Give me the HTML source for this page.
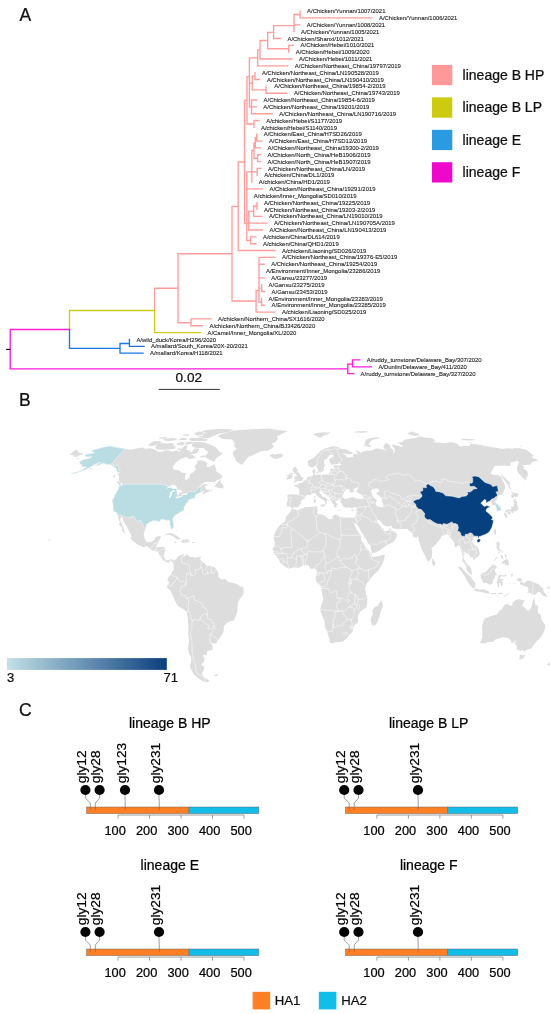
<!DOCTYPE html>
<html lang="en"><head><meta charset="utf-8"><title>Figure</title>
<style>
html,body{margin:0;padding:0;background:#fff;}
body{width:550px;height:1014px;position:relative;overflow:hidden;}
svg text{font-family:"Liberation Sans",Arial,Helvetica,sans-serif;stroke:#000;stroke-width:0.22px;}
#tips text{stroke-width:0.1px;stroke:#222;}
</style></head><body>
<svg width="550" height="1014" viewBox="0 0 550 1014" style="position:absolute;left:0;top:0">
<rect width="550" height="1014" fill="#fff"/>
<g id="panelA">
<text x="19.4" y="20.5" font-size="17.5" fill="#111">A</text>
<path d="M300.1 11.1L300.1 17.9M300.1 17.9L372.0 17.9M294.0 14.5L300.1 14.5M294.0 14.5L294.0 31.6M294.0 24.8L299.8 24.8M273.6 25.6L294.0 25.6M273.6 25.6L273.6 38.5M273.6 38.5L280.5 38.5M267.7 32.3L273.6 32.3M267.7 32.3L267.7 48.7M267.7 48.7L288.7 48.7M288.7 45.3L288.7 52.1M288.7 45.3L293.6 45.3M260.0 40.5L267.7 40.5M260.0 40.5L260.0 59.0M260.0 59.0L292.0 59.0M257.7 49.8L260.0 49.8M257.7 49.8L257.7 65.8M257.7 65.8L287.8 65.8M249.4 57.8L257.7 57.8M249.4 57.8L249.4 107.0M247.0 76.6L249.4 76.6M249.4 83.2L252.2 83.2M252.2 76.1L252.2 89.8M252.2 76.1L255.0 76.1M255.0 72.7L255.0 79.5M255.0 79.5L259.7 79.5M252.2 89.8L266.0 89.8M266.0 86.3L266.0 93.2M266.0 93.2L286.4 93.2M251.5 100.0L251.5 113.7M251.5 100.0L256.6 100.0M249.4 106.9L256.3 106.9M251.5 113.7L272.2 113.7M247.0 76.6L247.0 124.0M247.0 124.0L254.0 124.0M254.0 120.5L254.0 127.4M254.0 120.5L259.2 120.5M244.5 100.3L247.0 100.3M244.5 100.3L244.5 223.5M238.2 162.0L244.5 162.0M238.2 162.0L238.2 250.5M238.2 250.5L275.0 250.5M232.0 206.3L238.2 206.3M232.0 206.3L232.0 301.0M232.0 301.0L256.1 301.0M178.0 253.7L232.0 253.7M256.7 134.2L256.7 141.1M256.7 141.1L261.9 141.1M255.3 137.6L256.7 137.6M255.3 137.6L255.3 147.9M255.3 147.9L260.6 147.9M254.0 142.8L255.3 142.8M254.0 142.8L254.0 158.2M254.0 158.2L257.6 158.2M257.6 154.7L257.6 161.6M257.6 154.7L260.5 154.7M257.6 161.6L260.5 161.6M251.8 150.5L254.0 150.5M251.8 150.5L251.8 182.1M246.8 171.8L257.2 171.8M257.2 168.4L257.2 175.3M257.2 168.4L261.0 168.4M246.8 171.8L246.8 240.5M246.8 188.9L262.5 188.9M244.5 223.4L248.8 223.4M248.8 211.3L248.8 230.0M248.8 223.1L267.0 223.1M248.8 230.0L262.5 230.0M248.8 211.3L253.7 211.3M253.7 206.0L253.7 216.3M253.7 216.3L262.0 216.3M253.7 206.0L257.0 206.0M257.0 202.6L257.0 209.5M246.8 240.5L250.6 240.5M250.6 236.8L250.6 243.7M250.6 236.8L256.0 236.8M250.6 243.7L256.0 243.7M259.0 257.3L259.0 302.0M259.0 257.3L275.0 257.3M259.0 264.2L264.2 264.2M259.0 277.9L264.2 277.9M259.0 288.1L261.6 288.1M261.6 284.7L261.6 291.5M261.6 291.5L264.6 291.5M259.0 302.0L261.6 302.0M261.6 298.4L261.6 305.2M261.6 305.2L264.6 305.2M256.1 290.5L259.0 290.5M256.1 290.5L256.1 312.1M256.1 312.1L275.0 312.1M178.0 253.7L178.0 322.7M178.0 322.7L191.0 322.7M191.0 318.9L191.0 325.7M191.0 318.9L211.0 318.9M191.0 325.7L202.5 325.7M154.6 288.2L178.0 288.2M154.6 288.2L154.6 310.5" stroke="#FF9C9C" stroke-width="1.35" fill="none" stroke-linecap="square"/>
<path d="M154.6 310.5L154.6 332.6M154.6 332.6L200.5 332.6M69.5 310.5L154.6 310.5M69.5 310.5L69.5 329.5" stroke="#CDCB1E" stroke-width="1.35" fill="none" stroke-linecap="square"/>
<path d="M69.5 329.5L69.5 348.3M69.5 348.3L120.0 348.3M120.0 343.5L120.0 353.1M120.0 353.1L143.0 353.1M120.0 343.5L129.4 343.5M129.4 339.4L129.4 346.3M129.4 346.3L144.0 346.3" stroke="#1878E4" stroke-width="1.35" fill="none" stroke-linecap="square"/>
<path d="M10.2 329.5L10.2 368.8M10.2 329.5L69.5 329.5M10.2 368.8L347.8 368.8M347.8 364.1L347.8 373.6M347.8 373.6L353.6 373.6M347.8 364.1L352.5 364.1M352.5 359.9L352.5 366.8M352.5 359.9L359.7 359.9M352.5 366.8L371.4 366.8" stroke="#FF1CDC" stroke-width="1.35" fill="none" stroke-linecap="square"/>
<path d="M6.1 349.4H10.2" stroke="#111" stroke-width="1.2"/>
<g id="tips" font-size="5.93" fill="#1a1a1a">
<text x="307.1" y="13.2">A/Chicken/Yunnan/1007/2021</text>
<text x="379.0" y="20.0">A/Chicken/Yunnan/1006/2021</text>
<text x="306.8" y="26.9">A/Chicken/Yunnan/1008/2021</text>
<text x="301.0" y="33.7">A/Chicken/Yunnan/1005/2021</text>
<text x="287.5" y="40.6">A/Chicken/Shanxi/1012/2021</text>
<text x="300.6" y="47.4">A/Chicken/Hebei/1010/2021</text>
<text x="295.7" y="54.2">A/Chicken/Hebei/1009/2020</text>
<text x="299.0" y="61.1">A/Chicken/Hebei/1011/2021</text>
<text x="294.8" y="67.9">A/Chicken/Northeast_China/19797/2019</text>
<text x="262.0" y="74.8">A/Chicken/Northeast_China/LN190528/2019</text>
<text x="267.0" y="81.6">A/Chicken/Northeast_China/LN190410/2019</text>
<text x="274.3" y="88.4">A/Chicken/Northeast_China/19854-2/2019</text>
<text x="293.9" y="95.3">A/Chicken/Northeast_China/19743/2019</text>
<text x="263.6" y="102.1">A/Chicken/Northeast_China/19854-6/2019</text>
<text x="263.3" y="109.0">A/Chicken/Northeast_China/19201/2019</text>
<text x="279.2" y="115.8">A/Chicken/Northeast_China/LN190716/2019</text>
<text x="266.2" y="122.6">A/chicken/Hebei/S1177/2019</text>
<text x="261.0" y="129.5">A/chicken/Hebei/S1140/2019</text>
<text x="263.7" y="136.3">A/Chicken/East_China/H7SD26/2019</text>
<text x="268.9" y="143.2">A/Chicken/East_China/H7SD12/2019</text>
<text x="267.6" y="150.0">A/Chicken/Northeast_China/19300-2/2019</text>
<text x="267.5" y="156.8">A/Chicken/North_China/HeB1906/2019</text>
<text x="267.5" y="163.7">A/Chicken/North_China/HeB1907/2019</text>
<text x="268.0" y="170.5">A/Chicken/Northeast_China/LN/2019</text>
<text x="264.2" y="177.4">A/chicken/China/DL1/2019</text>
<text x="258.8" y="184.2">A/chicken/China/HD1/2019</text>
<text x="269.5" y="191.0">A/Chicken/Northeast_China/19291/2019</text>
<text x="253.8" y="197.9">A/chicken/Inner_Mongolia/SD010/2019</text>
<text x="264.0" y="204.7">A/Chicken/Northeast_China/19225/2019</text>
<text x="264.0" y="211.6">A/Chicken/Northeast_China/19203-2/2019</text>
<text x="269.0" y="218.4">A/Chicken/Northeast_China/LN19010/2019</text>
<text x="274.0" y="225.2">A/Chicken/Northeast_China/LN190705A/2019</text>
<text x="269.5" y="232.1">A/Chicken/Northeast_China/LN190413/2019</text>
<text x="263.0" y="238.9">A/chicken/China/DL614/2019</text>
<text x="263.0" y="245.8">A/chicken/China/QHD1/2019</text>
<text x="282.0" y="252.6">A/chicken/Liaoning/SD026/2019</text>
<text x="282.0" y="259.4">A/Chicken/Northeast_China/19376-E5/2019</text>
<text x="271.2" y="266.3">A/Chicken/Northeast_China/19254/2019</text>
<text x="266.0" y="273.1">A/Environment/Inner_Mongolia/23286/2019</text>
<text x="271.2" y="280.0">A/Gansu/23277/2019</text>
<text x="268.6" y="286.8">A/Gansu/23275/2019</text>
<text x="271.6" y="293.6">A/Gansu/23453/2019</text>
<text x="268.6" y="300.5">A/Environment/Inner_Mongolia/23283/2019</text>
<text x="271.6" y="307.3">A/Environment/Inner_Mongolia/23285/2019</text>
<text x="282.0" y="314.2">A/chicken/Liaoning/SD025/2019</text>
<text x="218.0" y="321.0">A/chicken/Northern_China/SX1616/2020</text>
<text x="209.5" y="327.8">A/chicken/Northern_China/BJ3426/2020</text>
<text x="207.5" y="334.7">A/Camel/Inner_Mongolia/XL/2020</text>
<text x="136.4" y="341.5">A/wild_duck/Korea/H296/2020</text>
<text x="151.0" y="348.4">A/mallard/South_Korea/20X-20/2021</text>
<text x="150.0" y="355.2">A/mallard/Korea/H118/2021</text>
<text x="366.7" y="362.0">A/ruddy_turnstone/Delaware_Bay/307/2020</text>
<text x="378.4" y="368.9">A/Dunlin/Delaware_Bay/411/2020</text>
<text x="360.6" y="375.7">A/ruddy_turnstone/Delaware_Bay/327/2020</text>
</g>
<path d="M158.7 389.4H219.8" stroke="#333" stroke-width="1"/>
<text x="188.8" y="382.1" font-size="13.6" text-anchor="middle" fill="#111">0.02</text>
<rect x="432" y="64.9" width="20.3" height="20.3" fill="#FF9999"/>
<text x="462.6" y="79.6" font-size="14" fill="#111">lineage B HP</text>
<rect x="432" y="97.4" width="20.3" height="20.3" fill="#CCCB10"/>
<text x="462.6" y="112.1" font-size="14" fill="#111">lineage B LP</text>
<rect x="432" y="129.8" width="20.3" height="20.3" fill="#2A9BE0"/>
<text x="462.6" y="144.5" font-size="14" fill="#111">lineage E</text>
<rect x="432" y="162.2" width="20.3" height="20.3" fill="#EE08CC"/>
<text x="462.6" y="176.9" font-size="14" fill="#111">lineage F</text>
</g>
<g id="panelB">
<text x="18.9" y="405.5" font-size="17.5" fill="#111">B</text>
<defs><clipPath id="mapclip"><rect x="0" y="427" width="550" height="275"/></clipPath></defs><g id="map" clip-path="url(#mapclip)"><path d="M125.5 448.7L130.6 449.8L135.3 448.8L142.7 447.6L145.3 448.8L150.7 448.3L156.5 450.2L157.3 451.7L163.1 451.5L165.3 450.2L168.4 450.4L172.6 451.5L177.8 450.4L179.0 452.3L180.9 450.4L181.9 448.0L185.9 445.0L187.4 446.5L186.4 448.8L187.2 450.4L190.7 449.9L189.2 452.3L191.3 452.0L194.3 449.1L195.4 448.3L199.0 448.5L198.8 450.4L197.4 452.8L194.0 454.0L190.8 454.0L188.9 457.3L187.1 456.9L183.2 458.1L181.6 458.6L176.3 462.0L172.8 466.6L173.6 469.4L178.2 470.0L182.4 472.8L186.1 473.2L184.8 476.9L185.1 479.7L186.9 480.0L189.0 477.8L190.2 474.2L194.1 471.5L195.9 468.9L194.3 466.3L196.9 463.7L197.6 460.6L203.3 460.4L206.1 462.5L207.8 463.2L206.4 466.6L209.6 467.1L213.2 464.9L214.3 463.9L216.0 468.4L216.3 471.5L219.8 473.7L222.3 476.0L221.2 478.7L216.7 480.2L214.6 481.9L208.8 481.9L205.1 482.0L201.5 484.2L198.7 486.5L196.3 488.3L199.4 486.5L203.7 484.2L207.4 484.2L207.3 485.5L204.6 486.1L205.6 487.9L205.9 489.4L207.3 489.8L210.1 490.4L212.7 488.9L212.3 490.2L206.6 492.4L202.8 494.5L202.5 492.6L205.5 490.7L201.6 491.5L201.5 492.1L198.1 493.5L196.1 494.3L194.9 496.0L195.4 497.9L193.2 498.2L189.3 499.4L188.8 499.9L188.0 502.0L186.5 503.0L186.0 504.3L184.1 506.8L184.1 510.0L182.3 511.1L179.6 512.6L177.2 514.2L174.1 516.2L172.8 519.1L173.3 522.9L173.7 526.1L173.0 528.2L171.5 529.4L170.6 527.1L169.7 524.2L170.1 521.6L168.5 520.0L166.1 520.6L163.1 519.5L160.8 519.5L159.8 521.8L157.9 521.6L155.7 520.8L152.6 520.8L151.2 521.4L148.1 523.3L146.4 524.8L145.9 527.8L144.3 531.5L143.7 534.7L145.4 540.6L147.7 542.5L151.9 541.7L154.7 539.5L155.3 537.2L159.2 536.0L161.1 536.4L159.4 540.0L158.4 541.9L157.8 543.8L156.4 546.9L157.7 547.1L161.0 546.9L164.2 547.1L165.4 548.6L164.4 553.4L163.9 556.4L165.6 559.4L168.0 560.4L169.9 559.4L172.2 559.3L173.9 560.6L173.0 563.4L172.2 561.9L170.5 560.2L169.1 561.5L169.5 563.1L167.6 562.5L164.9 561.7L163.6 560.8L161.6 558.1L160.4 556.4L158.3 552.6L157.6 551.8L154.0 551.1L150.6 549.5L148.0 546.7L146.4 546.3L143.9 547.3L140.7 546.1L138.6 545.2L135.5 543.1L132.6 541.0L130.6 538.3L131.3 536.2L130.2 533.0L128.3 529.6L126.8 526.7L125.0 524.0L123.3 521.0L122.7 517.8L121.1 516.8L120.1 520.0L121.8 523.8L123.2 527.7L124.3 531.1L125.2 533.0L124.3 533.6L121.8 530.1L122.1 527.7L119.8 525.4L118.5 524.0L120.2 522.5L118.6 519.5L118.0 516.6L117.8 515.3L116.7 512.6L113.8 511.5L113.1 507.5L113.1 505.2L112.5 502.0L112.3 500.3L114.1 497.3L114.4 495.4L118.2 489.4L119.3 485.4L121.6 485.7L122.7 484.2L122.4 483.7L120.9 482.4L118.8 480.6L119.1 478.2L118.8 476.0L117.9 474.6L119.6 472.8L117.7 472.4L116.6 470.1L115.7 467.7L114.2 467.7L113.4 466.3L111.7 465.4L110.1 464.5L106.9 464.4L105.2 463.7L102.6 463.2L99.0 464.9L95.0 465.9L98.9 462.8L100.5 462.5L96.7 463.7L93.1 465.4L90.5 467.1L85.2 469.8L80.9 471.5L76.2 473.0L71.9 473.9L69.9 474.0L74.7 472.3L78.1 471.5L82.4 469.8L86.5 466.8L84.7 466.8L82.4 466.8L80.8 466.3L82.5 464.5L79.8 464.5L79.7 462.8L80.5 461.1L83.9 459.4L87.7 458.6L90.6 457.8L92.0 456.4L88.8 456.9L85.7 456.9L85.6 455.8L84.4 455.1L87.4 454.1L91.1 453.6L93.8 453.0L93.3 452.0L90.9 450.7L93.7 449.8L97.9 448.8L101.9 447.6L109.2 446.0L112.8 446.6L115.8 447.2L117.4 447.6L121.2 448.0L125.5 448.7ZM173.9 560.6L176.3 559.1L177.6 556.8L179.8 555.6L183.2 553.9L184.4 553.5L183.4 556.2L183.9 556.6L186.4 555.3L186.5 553.9L188.8 555.8L189.6 557.0L192.8 557.0L195.3 557.7L199.4 556.8L199.6 558.5L201.7 561.0L204.9 563.8L206.9 565.7L210.5 565.9L214.6 567.3L216.2 569.0L218.6 573.7L218.3 576.8L221.1 579.4L225.2 579.1L228.0 582.1L232.7 582.7L236.8 584.0L240.1 586.5L242.9 587.0L243.8 590.9L243.2 594.7L240.4 598.1L238.1 601.9L237.5 606.7L237.4 611.4L235.2 618.1L233.5 620.7L229.5 621.3L226.5 623.2L223.6 626.3L223.8 631.0L221.9 634.8L219.3 638.4L217.8 641.3L216.0 643.4L213.3 643.4L210.3 641.9L212.6 645.7L212.7 649.4L207.1 651.3L206.8 654.7L202.7 655.1L204.4 658.1L204.0 661.7L201.4 664.5L204.4 667.3L203.3 671.0L201.9 673.4L203.7 676.3L204.4 677.4L208.4 680.1L209.8 680.8L207.6 681.9L204.1 681.7L200.6 679.7L196.9 677.4L193.4 673.7L190.9 669.1L189.8 665.4L191.2 661.7L191.1 657.0L188.9 653.2L188.0 647.9L188.6 644.7L189.0 640.0L188.3 634.3L188.4 625.7L187.7 617.1L186.8 612.0L184.0 609.5L178.5 606.5L176.4 603.4L174.7 600.0L171.6 592.8L169.6 589.5L167.4 588.2L167.2 585.3L168.8 583.6L169.4 581.5L167.6 581.3L167.7 579.1L169.2 576.2L171.2 574.5L171.7 572.2L173.8 569.7L173.5 566.7L173.8 564.2L173.0 563.4ZM351.7 517.8L352.3 520.2L352.9 522.3L354.3 524.2L355.9 527.7L357.9 531.5L360.4 535.3L361.0 537.2L361.4 541.0L363.6 542.9L365.3 547.6L367.5 549.2L370.3 552.4L371.5 553.0L371.9 555.1L371.4 555.3L373.1 557.2L376.4 556.6L380.4 555.6L384.8 554.5L384.6 557.4L383.1 561.9L380.8 566.7L377.6 571.4L374.3 574.3L371.0 578.1L369.4 580.6L367.2 582.5L366.2 585.7L364.8 589.0L365.9 591.4L365.7 594.3L367.2 597.1L367.3 603.8L366.1 607.6L361.0 611.0L357.9 615.2L358.0 621.9L353.7 625.7L353.3 628.4L352.3 632.0L349.9 634.3L346.4 638.6L343.0 641.5L340.7 641.9L335.2 642.2L332.0 643.4L329.6 642.2L329.6 639.0L328.2 635.2L327.1 631.6L324.9 626.6L324.3 620.0L322.0 615.2L320.2 609.9L321.4 604.8L323.6 599.0L322.3 594.3L321.2 588.6L320.4 585.7L316.6 581.9L315.5 578.5L316.6 575.2L317.1 571.1L315.0 568.2L312.5 568.8L310.9 569.0L308.4 565.3L306.6 565.0L303.0 565.5L300.7 566.7L297.7 568.0L294.4 567.3L288.7 568.8L285.7 567.1L283.2 565.2L280.5 562.9L279.3 561.0L278.5 559.1L276.4 556.2L273.7 553.5L273.7 551.4L272.5 549.2L274.1 546.7L275.0 542.9L274.3 540.0L273.6 537.2L275.3 532.0L277.9 527.7L280.4 524.4L282.8 523.3L285.2 521.0L285.7 519.1L285.6 517.2L289.2 513.2L291.9 509.0L292.8 508.8L296.4 510.0L297.6 510.4L300.1 509.2L305.6 507.1L308.7 507.1L313.0 506.8L316.1 506.2L317.9 506.8L317.3 507.9L317.4 509.0L317.8 511.1L316.7 512.6L318.3 514.0L321.6 514.5L324.8 515.5L327.1 517.8L329.3 519.3L331.7 519.3L332.4 518.1L332.5 516.1L334.9 514.5L337.0 514.9L338.6 516.2L340.2 517.0L343.7 517.4L348.0 517.8L349.7 517.2ZM287.2 506.8L286.6 503.5L287.6 500.7L287.9 498.8L287.1 495.4L288.7 494.5L292.5 494.3L295.3 494.5L298.3 494.7L298.8 494.5L299.2 492.2L299.2 489.4L297.8 487.6L294.4 486.3L294.0 485.4L296.6 484.6L298.7 485.0L298.4 483.0L301.1 483.3L303.2 482.0L303.7 480.6L305.9 479.8L307.0 478.4L307.7 476.9L310.9 476.2L312.6 475.8L313.5 475.1L313.0 473.5L312.6 472.4L312.2 470.7L315.5 468.5L315.4 470.7L315.2 473.0L314.9 473.7L315.3 474.4L316.3 475.1L318.2 474.8L320.1 474.2L321.0 475.3L323.5 474.6L327.3 474.4L328.5 474.4L329.0 473.5L330.6 472.8L330.1 471.4L330.1 469.8L330.8 468.7L332.0 468.5L334.2 469.8L334.3 468.2L334.4 467.3L333.0 466.6L334.4 465.4L336.2 465.2L338.9 465.4L341.8 464.7L339.5 463.3L338.4 463.7L334.7 464.2L332.1 464.9L330.9 463.9L329.5 462.0L329.3 459.3L333.9 456.1L332.5 454.8L332.2 454.8L329.6 455.1L327.6 458.1L324.0 460.4L324.1 463.3L325.5 465.8L323.8 467.1L323.7 470.3L322.6 471.2L320.8 472.6L319.1 472.3L318.6 471.2L317.3 468.5L316.2 466.3L315.4 464.7L315.2 465.9L311.9 467.8L308.7 466.3L308.1 463.9L307.6 461.3L309.2 460.3L312.8 458.3L315.5 456.3L319.3 452.3L321.1 450.4L324.6 448.5L330.2 446.9L332.6 446.1L335.4 446.5L339.4 447.4L339.3 448.3L342.2 449.1L345.4 449.3L348.9 450.7L353.6 453.2L352.3 454.1L349.8 454.3L345.8 453.8L342.4 452.7L345.5 455.3L346.3 456.9L349.4 457.8L350.5 457.3L353.7 456.9L352.6 455.3L354.8 453.8L357.5 454.5L357.3 452.8L355.4 450.2L359.1 451.2L360.3 453.2L361.8 451.9L367.6 450.4L369.1 450.9L370.8 450.4L373.7 449.8L376.2 448.3L380.9 449.1L384.3 449.8L387.3 450.7L384.5 448.8L383.2 446.8L384.1 445.5L385.3 443.3L387.9 443.7L390.0 445.7L390.9 448.0L393.8 450.4L393.1 453.5L395.1 451.2L394.0 448.0L391.7 444.9L394.5 444.6L396.4 445.7L399.4 445.7L402.2 447.2L402.5 445.7L397.5 442.6L403.6 441.8L403.5 440.0L409.6 438.8L414.8 438.1L417.7 437.3L420.5 436.3L424.9 437.6L431.1 438.1L434.3 439.5L435.1 441.1L432.5 442.1L435.9 442.6L437.5 442.4L445.6 443.3L449.4 442.3L453.3 442.6L457.4 443.7L459.2 446.1L461.9 446.5L463.0 445.7L467.3 445.7L469.7 445.7L470.5 444.1L471.2 443.7L478.1 444.4L484.4 445.7L488.5 446.6L500.0 448.5L502.2 448.8L509.7 448.3L514.4 449.6L512.4 448.0L515.9 448.3L519.7 448.3L525.0 449.6L526.5 449.8L533.3 455.3L533.1 456.8L531.6 456.6L531.9 457.4L536.9 459.4L538.6 460.6L534.0 461.6L531.3 462.8L531.0 464.5L525.3 464.9L522.6 464.9L524.0 467.1L523.8 468.4L527.5 471.2L527.5 473.3L528.0 474.2L527.4 476.6L526.3 477.8L525.8 480.6L522.7 477.8L518.6 473.3L516.8 469.8L517.2 467.1L518.4 464.0L519.0 462.0L516.6 460.3L514.4 462.0L510.4 462.0L510.9 465.4L507.6 466.3L505.2 465.4L499.0 465.8L494.9 465.8L493.4 468.0L492.0 470.7L490.4 473.7L494.6 475.1L497.1 474.8L501.1 476.6L502.6 480.6L505.1 485.2L504.9 488.9L503.5 491.7L502.8 494.5L498.7 495.2L497.5 496.7L497.2 499.2L494.9 501.5L495.3 502.6L497.3 503.7L500.1 506.8L501.2 509.0L500.9 510.4L498.9 511.1L497.1 511.3L496.4 508.6L496.1 506.8L495.4 505.8L492.7 505.2L492.0 504.7L491.8 502.0L489.9 501.1L487.6 502.0L486.1 503.3L486.0 500.1L484.2 499.6L482.8 501.3L480.8 503.0L483.4 505.8L484.8 506.6L486.7 505.6L489.3 506.2L489.6 506.9L486.8 508.6L486.0 510.5L486.0 511.1L488.9 513.4L492.0 516.6L492.7 518.3L491.3 519.5L493.5 520.4L492.9 523.8L491.7 527.7L490.1 530.5L488.3 532.8L484.7 534.7L483.6 534.9L480.7 536.2L479.0 536.6L479.0 538.5L478.1 537.6L477.8 536.2L476.7 536.2L475.1 536.2L473.4 537.7L472.3 541.0L472.3 541.6L473.9 543.8L476.2 545.7L477.3 546.7L478.8 549.5L479.7 553.4L479.5 555.3L476.4 557.4L473.0 560.8L473.2 558.5L472.1 557.4L470.6 557.0L469.4 554.9L467.8 553.7L466.1 553.0L465.2 551.4L464.4 551.8L464.5 554.3L463.6 557.2L463.9 559.6L465.2 561.0L466.2 563.4L467.8 564.2L469.1 565.3L471.2 568.6L471.4 571.8L472.6 574.5L471.5 574.7L467.8 571.8L466.6 569.5L466.0 566.7L465.6 565.0L464.2 562.9L462.5 561.9L462.6 559.1L462.7 558.1L462.3 554.3L461.1 550.5L460.0 546.7L458.6 544.8L457.9 545.7L456.5 547.1L454.5 546.7L454.4 543.8L453.6 541.4L452.2 539.5L451.0 538.7L450.0 537.7L448.7 534.7L446.5 534.3L444.3 535.3L442.7 535.6L441.2 536.4L441.0 538.1L439.7 539.5L436.2 543.5L434.8 545.5L432.9 547.1L431.5 548.0L432.2 552.2L431.8 555.3L431.8 557.5L430.6 559.4L428.3 561.7L426.2 559.1L425.9 558.1L425.0 555.6L423.3 552.6L421.2 547.8L418.9 541.0L418.3 537.2L417.7 535.3L417.2 537.2L415.6 537.6L413.9 537.2L412.0 534.7L413.9 533.4L411.0 532.8L410.4 532.0L408.2 529.9L407.2 528.8L402.4 529.0L399.4 529.2L395.2 528.8L392.5 528.2L391.3 525.6L388.3 526.5L385.3 526.1L382.7 524.2L381.4 522.1L379.0 519.9L377.6 520.0L376.8 521.0L378.5 524.4L380.8 526.3L381.1 528.2L382.3 529.9L382.3 527.7L383.3 527.8L383.4 530.3L383.7 531.1L388.3 531.1L390.4 527.5L391.4 530.5L395.0 532.2L397.2 534.3L396.0 538.1L394.4 541.0L390.3 543.5L385.9 545.7L379.4 550.5L374.6 552.8L372.1 553.0L371.7 551.8L370.8 549.0L370.5 545.9L368.4 543.8L366.5 540.0L364.2 537.2L363.8 535.3L360.7 530.9L359.2 527.7L356.5 523.8L356.3 521.0L355.7 523.5L355.3 524.2L354.3 523.3L353.2 521.9L352.3 520.2L351.7 517.8L354.9 517.6L355.5 516.1L355.7 514.7L356.3 512.6L356.4 509.6L356.8 507.5L355.7 507.5L354.3 507.1L351.7 508.6L348.3 506.9L346.5 508.3L344.6 507.1L343.2 506.8L342.0 504.1L340.9 502.2L340.8 501.1L340.8 500.5L340.4 499.8L340.2 499.6L337.9 499.4L337.5 501.1L336.4 500.5L335.7 499.9L335.3 501.1L336.1 502.4L337.8 504.5L337.3 505.0L336.3 505.0L336.7 506.2L336.6 507.7L335.5 507.7L334.4 507.1L333.7 505.4L334.2 504.5L333.3 504.3L332.6 503.2L331.8 502.0L330.4 500.3L330.3 498.6L330.2 497.5L328.8 496.6L328.2 496.2L325.5 494.5L323.7 493.4L322.3 491.1L321.5 492.1L321.3 490.6L319.2 490.9L319.6 491.9L319.8 493.4L321.2 494.3L322.3 496.4L325.4 497.5L326.6 499.0L328.3 499.9L329.1 500.9L329.0 501.5L327.1 500.1L326.3 501.6L327.2 502.8L326.3 504.3L325.1 505.0L325.3 503.5L325.4 502.0L323.4 499.9L322.5 499.6L321.4 498.8L319.4 497.7L316.7 495.6L316.4 494.5L315.6 493.4L314.2 492.8L311.9 494.1L310.0 495.2L308.9 494.9L307.0 494.5L305.5 496.2L306.0 496.7L304.3 498.4L302.8 499.0L302.2 499.8L300.5 502.0L301.3 503.5L300.2 504.3L299.6 505.6L297.6 507.3L294.2 507.3L292.7 508.5L292.3 508.6L291.3 507.7L290.2 506.4L288.8 506.8ZM217.8 435.6L221.6 438.8L223.7 439.1L232.3 439.5L234.7 443.3L234.0 446.5L236.8 448.8L233.4 451.2L232.9 454.5L235.0 457.8L235.9 461.1L239.2 463.5L242.3 464.7L245.2 461.1L248.3 456.9L253.3 454.9L260.6 451.2L268.3 450.4L272.5 448.0L274.1 445.7L271.3 444.1L275.4 441.8L278.2 438.8L276.9 436.6L280.7 434.4L287.9 431.0L279.3 430.3L268.2 428.4L252.8 429.3L241.8 429.7L234.7 430.6L229.4 431.9L225.0 433.3ZM270.0 455.3L272.2 453.8L274.9 454.8L277.9 454.1L280.5 453.6L282.2 454.5L283.4 455.8L281.4 457.3L276.7 458.8L274.1 458.4L271.3 458.1L272.4 456.9L269.9 456.3ZM381.7 600.0L383.0 606.3L381.4 609.5L379.9 615.2L377.1 622.8L375.3 625.1L372.9 625.7L371.2 622.8L370.7 619.0L372.6 614.8L372.4 610.5L374.2 607.6L377.6 606.1L379.4 602.9ZM75.5 449.8L78.1 450.7L78.7 452.8L82.8 453.2L83.0 454.3L78.6 455.6L76.3 457.1L73.8 456.4L73.8 455.3L70.6 455.3L71.4 454.1L68.7 455.3ZM213.9 675.2L216.5 674.3L218.4 674.8L217.0 676.1L214.4 675.9ZM214.8 461.8L212.6 461.3L207.2 458.6L205.3 456.9L201.2 457.4L199.9 456.1L206.1 455.3L208.4 452.0L206.5 450.7L203.6 448.0L200.5 448.0L196.8 448.0L194.2 447.2L191.7 446.5L192.0 444.1L193.7 442.1L199.4 442.1L204.1 442.3L206.9 443.5L210.0 444.4L213.4 446.0L216.3 447.6L217.3 449.3L219.8 452.0L222.0 452.8L222.6 453.5L220.3 455.3L218.5 456.6L215.5 459.1ZM155.3 448.0L157.2 449.5L163.2 449.8L169.1 449.5L174.8 448.5L175.7 446.5L173.2 445.7L174.2 443.7L171.1 443.0L166.8 443.8L163.4 442.9L158.4 443.8L156.1 445.7ZM148.3 444.9L149.8 446.1L154.3 445.7L158.2 444.0L161.9 442.6L160.7 441.4L156.8 441.1L152.8 441.5L150.4 443.3ZM176.9 444.9L182.6 445.4L185.3 442.6L181.0 442.0L177.5 443.3ZM184.8 444.9L191.6 443.8L192.9 442.0L187.1 441.8ZM176.7 449.3L180.3 450.4L182.0 448.8L179.4 448.2ZM188.7 455.3L192.3 454.6L195.8 457.8L192.7 458.6L188.5 459.1L187.0 457.8ZM163.3 439.8L167.3 441.2L175.9 440.3L177.3 438.7L173.8 438.1L167.1 438.4L163.8 438.8ZM178.2 440.3L186.1 440.0L187.3 437.9L181.5 437.9ZM191.9 440.9L206.2 440.9L207.7 439.4L203.3 438.2L197.1 437.9L190.6 438.1L188.3 439.5ZM197.3 437.0L203.4 438.1L209.3 437.9L214.4 435.6L217.8 434.0L227.4 432.3L234.1 429.9L228.4 429.0L217.9 428.9L206.1 429.9L201.4 431.2L205.8 432.3L202.8 433.9L203.0 435.6ZM193.8 433.3L197.4 435.4L201.8 435.0L204.0 432.5L199.1 431.4ZM159.7 438.8L164.2 438.4L167.5 436.9L163.4 436.9L158.7 438.1ZM182.7 435.4L187.7 436.1L190.2 434.7L185.2 434.0ZM214.2 486.8L219.0 488.1L222.8 488.5L223.9 486.8L222.8 484.6L220.8 482.6L220.9 479.7L218.6 481.3L216.1 484.2ZM116.7 480.9L120.2 481.9L121.3 485.0L119.4 485.0L117.0 482.4ZM113.9 474.9L115.5 475.1L114.3 478.2L113.3 476.9ZM207.8 482.6L211.4 483.9L209.0 483.7ZM88.7 468.9L92.5 468.0L91.4 469.2L88.3 470.1ZM75.8 458.8L78.7 459.1L79.4 458.4L77.1 458.1ZM75.5 464.4L77.5 464.5L77.7 463.9ZM164.3 535.5L167.7 533.4L170.9 533.0L174.0 534.3L177.0 535.8L179.1 537.6L181.1 538.7L179.7 539.3L175.7 539.3L175.1 537.7L172.9 536.2L169.4 534.9L166.6 534.9ZM180.4 542.1L183.3 539.3L187.8 539.5L190.2 541.6L189.1 542.3L185.8 542.5L184.6 543.5L182.6 542.5ZM174.1 542.1L177.3 542.5L176.9 543.1L174.1 542.9ZM192.1 541.9L194.5 542.1L194.2 542.9L192.0 542.9ZM176.2 526.5L178.1 526.5L177.5 527.1ZM176.0 529.6L176.4 530.9L176.9 529.9ZM199.6 556.8L201.1 556.6L201.0 557.9L199.7 557.9ZM292.8 482.2L295.0 480.2L296.7 480.0L296.4 479.8L293.6 479.3L295.2 477.8L294.5 477.3L294.8 476.2L296.8 476.2L296.8 475.1L295.9 474.2L296.2 473.5L294.0 473.7L294.3 472.3L293.3 472.6L293.1 470.7L292.5 468.9L294.2 467.0L296.8 467.0L295.5 468.7L298.5 468.9L298.1 469.6L297.5 471.0L296.6 471.5L298.8 472.4L299.0 473.5L300.9 475.1L301.1 476.0L301.4 477.1L303.4 477.5L303.3 478.7L302.3 479.8L303.0 480.2L301.4 481.0L299.4 480.9L297.5 481.3L296.0 481.7L293.8 482.4ZM292.0 478.4L292.4 476.4L292.7 473.9L292.3 473.0L290.8 472.8L289.1 473.7L288.9 474.6L286.9 474.8L287.0 476.0L288.3 476.6L287.5 477.3L286.3 478.6L287.0 479.7L289.2 479.1L291.0 478.6ZM320.0 504.9L321.5 504.5L324.9 504.3L324.4 506.4L324.3 507.3L320.2 505.6ZM313.4 499.4L314.9 498.8L315.9 500.1L315.6 502.6L314.6 503.2L313.8 502.6L313.7 500.1ZM313.9 496.6L315.1 495.4L315.3 497.3L314.9 498.4L314.1 497.5ZM337.4 509.6L338.9 509.8L341.7 510.2L341.3 510.5L339.3 510.7L337.6 510.2ZM351.1 510.5L352.1 509.8L354.5 509.2L353.7 510.5L352.2 511.3L351.3 511.1ZM316.3 472.1L318.3 471.4L318.4 472.8L317.5 473.9L316.4 473.0ZM325.9 469.6L327.0 468.2L326.9 469.2L326.3 470.0ZM364.0 445.7L364.9 443.3L365.9 440.3L368.6 438.5L373.9 437.6L380.2 437.5L378.1 438.8L372.8 439.8L370.2 441.8L368.8 444.1L371.8 446.9L367.5 446.8L365.2 445.7ZM313.4 434.4L316.6 433.0L323.1 432.3L331.0 432.7L327.0 434.4L324.8 435.1L322.2 436.6L320.1 437.8L317.1 436.6L314.1 435.1ZM353.2 432.6L362.1 432.7L369.4 432.0L364.3 431.0L356.0 431.6ZM407.5 433.7L410.9 431.6L418.7 433.7L419.3 435.4L414.1 435.9ZM461.0 438.8L466.9 438.8L476.0 439.5L473.4 440.3L467.6 440.5L462.2 439.8ZM468.2 442.0L472.5 442.6L470.6 443.0ZM519.3 445.7L521.1 445.7L522.1 446.5L520.8 446.6ZM510.0 489.8L511.1 488.7L508.8 483.7L511.1 484.2L504.2 477.3L501.9 474.6L500.9 474.6L502.6 477.8L506.0 482.4L508.5 486.1L509.9 488.9ZM512.3 498.2L513.6 497.9L514.1 496.2L516.8 497.3L518.7 494.9L517.4 493.0L513.9 493.0L510.8 490.9L512.8 494.7L511.1 494.9L511.2 496.7ZM504.7 512.4L505.7 510.7L507.1 509.4L511.1 509.4L511.2 506.2L512.4 507.1L513.8 506.0L514.0 504.9L513.9 501.5L513.2 499.9L514.2 498.4L515.5 500.1L517.3 502.0L516.8 504.3L517.9 506.9L518.7 509.2L517.8 510.5L517.3 509.4L516.7 510.2L516.5 511.3L515.6 511.3L513.7 511.3L513.3 510.5L513.7 511.9L512.7 513.4L511.0 511.9L511.1 511.3L509.1 511.3L507.0 511.9L504.9 512.4ZM504.9 512.6L506.5 514.0L507.2 514.9L507.3 517.4L506.5 518.1L505.5 517.6L504.8 515.7L503.5 514.3L504.2 513.2ZM507.2 512.4L509.4 511.7L510.8 512.8L510.4 513.8L508.8 514.7L507.5 513.6ZM517.8 493.2L518.7 492.2L520.3 491.1L519.9 491.7ZM524.2 487.9L524.4 486.1L524.7 487.6ZM525.4 482.4L525.5 481.1L525.6 482.0ZM495.1 529.0L496.1 529.6L496.0 532.4L495.5 535.3L494.2 533.7L493.7 531.8L494.5 529.6ZM432.0 558.7L432.7 559.1L434.3 561.0L435.6 563.3L435.0 565.0L433.6 565.9L432.6 565.3L432.1 562.9L432.2 561.0ZM496.5 541.9L499.1 541.9L499.8 544.8L498.9 546.7L499.5 549.5L502.2 550.9L503.9 553.2L502.5 552.4L501.1 551.3L498.6 551.1L497.7 549.5L496.4 547.1L496.6 545.5L496.5 543.8ZM501.5 563.8L502.2 561.9L503.7 560.8L506.8 558.5L508.5 561.0L508.9 564.2L507.7 566.1L507.0 564.8L505.2 565.2L504.8 563.3ZM504.3 553.5L506.8 555.3L506.2 557.7L505.0 556.6ZM500.7 554.7L502.7 555.4L503.3 559.4L501.9 558.5L500.9 557.2ZM493.4 561.2L496.8 556.6L497.4 557.4L494.1 561.5ZM497.8 551.6L499.5 551.8L499.4 553.7L498.5 553.2ZM480.7 574.3L481.5 573.3L484.3 572.4L487.1 571.1L488.6 568.4L491.0 566.7L493.0 564.0L494.5 565.2L497.1 567.1L495.2 569.0L495.0 571.4L497.0 575.2L495.0 575.6L494.6 578.7L492.9 580.0L492.3 583.8L489.6 584.8L487.1 583.2L484.6 582.9L482.5 582.5L482.5 580.0L480.9 578.1L480.6 575.6ZM457.8 566.5L461.4 567.3L463.5 569.9L466.4 573.0L469.0 575.2L471.5 578.1L473.1 580.6L475.5 582.9L475.0 588.2L473.0 588.0L470.5 585.7L468.1 582.5L466.2 578.9L464.1 575.2L461.0 571.1L458.1 567.6ZM473.9 590.1L475.5 588.4L479.4 589.7L483.3 589.3L486.2 590.3L489.1 591.8L488.8 593.7L484.9 593.0L480.1 591.8L476.0 591.2ZM498.3 575.6L500.1 574.7L503.9 575.4L507.1 574.1L505.8 576.4L501.1 576.2L499.7 578.9L504.1 578.9L501.6 581.0L503.3 584.8L501.4 586.3L500.2 582.9L499.3 582.9L499.1 587.6L497.6 587.6L497.7 583.8L496.6 582.5L498.3 577.5ZM489.2 592.8L492.6 593.0L496.4 593.1L496.2 593.9L491.4 594.1ZM497.9 593.1L502.8 592.8L502.6 593.9L498.0 593.9ZM503.4 596.8L505.1 594.9L509.9 593.1L508.6 594.3L505.1 596.6ZM496.2 595.2L499.1 595.8L497.7 596.6ZM511.0 573.7L513.0 574.3L511.9 577.7L511.4 576.2ZM511.8 582.9L516.4 583.4L514.2 583.8ZM508.5 583.2L510.4 583.4L509.4 584.4ZM516.8 578.7L519.3 577.9L521.7 578.7L522.0 581.9L524.1 583.4L527.5 580.2L533.2 582.1L538.9 584.4L540.9 587.0L543.6 588.6L543.0 590.1L545.5 594.3L548.2 596.8L546.1 596.8L542.1 595.2L540.8 592.6L538.4 591.8L536.6 593.1L535.6 594.7L532.4 594.5L529.3 592.4L527.3 593.1L528.6 590.5L528.0 587.6L524.0 585.7L520.8 584.8L519.7 583.4L521.4 581.5L518.7 581.5L516.8 579.8ZM545.3 587.8L547.8 587.4L551.5 585.1L551.1 586.7L548.5 589.0ZM534.5 597.5L535.1 604.4L538.0 605.7L537.7 612.4L541.0 615.2L541.5 619.6L543.0 621.9L545.5 625.1L544.4 631.0L541.5 636.2L536.6 641.5L533.0 645.7L531.2 648.5L527.5 649.4L524.2 651.5L522.3 649.8L520.2 651.0L516.6 649.4L516.8 645.7L515.3 644.9L515.9 643.4L514.0 644.1L516.5 639.2L511.9 643.4L510.6 640.0L507.8 638.1L503.4 637.3L498.2 638.6L494.6 640.0L493.3 641.7L487.7 641.9L484.0 643.8L479.9 642.4L482.3 638.1L482.4 632.0L482.0 626.6L482.7 622.8L484.6 618.7L489.6 616.4L493.4 615.2L496.7 614.5L499.3 611.4L499.8 609.5L501.8 610.1L501.9 608.2L504.9 604.8L508.0 603.8L509.6 605.7L512.3 605.5L512.5 602.9L514.9 600.8L518.1 599.0L522.7 600.0L524.8 600.4L523.1 602.9L521.9 605.7L524.8 607.6L527.0 610.5L529.6 610.5L531.8 605.7L532.7 600.9ZM520.2 654.5L522.5 655.3L525.5 654.9L524.1 657.4L521.8 659.3L519.5 660.0L519.3 657.9ZM546.8 664.5L548.6 665.6L553.3 664.3L559.0 660.4L563.8 656.4L562.9 654.2L558.2 657.9L551.3 661.1ZM388.2 553.2L390.1 553.2L389.3 553.7Z" fill="#DDDDDD" />
<path d="M150.6 549.5L151.3 546.7L152.9 546.5L154.1 543.3L156.2 543.3L155.8 546.7L156.3 546.9M156.2 543.3L157.9 541.9M153.9 551.1L155.3 549.7L157.4 547.3M155.3 549.7L157.8 550.9L157.5 552.0M158.3 552.4L160.6 550.5L162.4 549.4L165.4 548.6M160.6 556.0L163.9 556.4M164.9 561.7L165.5 559.1M173.9 560.6L173.0 563.4M185.0 539.6L184.5 542.9M184.3 554.3L182.2 556.2L181.2 559.6L182.0 563.1L185.9 563.8L190.0 565.3L189.4 569.5L190.7 573.3L190.8 574.9M202.5 561.0L200.2 565.7L201.1 567.3M190.8 574.9L193.1 575.6L195.6 574.3L195.2 569.5L197.6 569.5L200.6 568.6L201.1 567.3M201.1 567.3L202.3 567.6L202.5 570.5L202.4 572.8L204.1 574.9L207.1 573.3L207.9 573.5M206.9 565.7L206.7 567.3L205.5 569.5L206.7 570.9L207.9 573.5M207.9 573.5L210.4 572.4L211.7 573.0M212.2 566.1L211.5 567.6L211.7 573.0M211.7 573.0L213.9 573.0L215.9 569.5M190.8 574.9L190.2 573.3L186.0 573.9L186.7 575.2L185.7 577.1L186.7 579.4L185.9 585.1M171.2 574.5L173.3 576.2L175.8 576.6L177.0 577.3M177.0 577.3L178.3 578.7L179.9 581.3L181.6 581.7L184.1 581.3L185.4 582.1L185.9 585.1M168.8 583.6L169.0 585.3L170.2 586.7L171.8 585.7L172.6 583.2L175.0 581.9L177.0 577.3M185.9 585.1L181.2 586.7L179.7 591.0L181.2 594.3L182.4 595.8L185.4 595.2L185.4 598.1L187.2 598.1M187.2 598.1L188.7 600.9L188.4 604.8L187.9 607.6L188.8 608.6L188.1 610.5M186.8 612.0L188.1 610.5M187.2 598.1L189.6 597.7L193.9 595.8L194.1 599.6L198.0 601.3L202.2 603.4L203.4 608.0L206.0 608.2L206.3 610.1L207.7 611.4L207.2 614.8M188.1 610.5L190.1 613.3L190.4 616.2L191.9 620.6L193.0 620.6M193.0 620.6L194.4 618.7L197.7 620.6L200.1 619.4M200.1 619.4L200.9 616.2L204.2 613.9L207.2 614.8M207.2 614.8L208.0 619.2L211.4 619.6L212.2 622.8L214.0 623.0L213.8 625.9M200.1 619.4L204.8 622.8L209.0 625.5L207.8 628.9L212.0 629.1L213.8 625.9M213.8 625.9L215.5 628.7L212.6 631.2L210.2 634.6M210.2 634.6L210.0 639.0L210.1 641.9M210.2 634.6L212.9 635.8L216.4 637.9L217.8 641.3M193.0 620.6L191.7 623.8L192.0 628.5L190.6 632.4L190.8 637.1L191.8 640.5L192.1 645.7L192.2 651.0L192.4 655.1L193.9 660.8L195.5 664.5L195.7 670.1L197.3 673.7L201.2 675.6L203.7 676.3M203.6 676.8L205.0 680.8M297.6 510.4L298.3 513.4L299.1 515.7L295.5 517.8L292.3 520.4L287.2 522.5L287.2 525.2M287.2 524.4L280.0 524.4M287.2 525.2L287.1 527.7L281.9 527.7L281.7 532.6L280.1 533.4L280.0 536.6L273.6 536.6M287.2 525.2L293.3 529.6L302.9 537.2L302.9 537.7L306.2 539.5L306.3 541.0L310.4 540.0L313.1 537.6L320.3 532.4L317.0 530.5L316.8 526.7L316.0 519.7L315.3 516.1L312.7 512.8L313.7 511.1L314.2 506.9M315.3 516.1L317.2 516.8L318.9 514.0M320.3 532.4L323.8 534.1L325.1 533.4L339.8 540.0L339.8 539.1L341.4 539.1L340.2 517.0M341.2 535.3L360.4 535.3M293.3 529.6L290.6 529.6L292.0 547.6L285.9 547.6L283.6 547.8L282.3 547.5L281.1 549.0M274.1 546.7L277.4 545.5L279.3 547.6L281.1 549.0L282.4 553.5M273.7 553.5L278.6 553.2L282.4 553.5M273.6 551.3L278.1 551.3M276.4 556.2L278.6 554.9L278.6 553.2M282.4 553.5L286.3 553.5L287.9 557.7M279.2 560.0L283.0 558.1L284.1 561.0M284.1 561.0L285.6 563.1L287.0 562.7M287.9 557.7L287.5 561.0L287.0 562.7M282.1 564.0L284.1 561.0M287.0 562.7L288.7 566.1L288.7 568.8M287.9 557.7L291.2 557.7L292.0 557.4M292.0 557.4L292.0 555.3L294.0 553.0L294.6 551.6L296.3 550.5L297.7 550.1L299.9 548.6L301.3 548.6M301.3 548.6L303.1 548.0L306.7 547.8L307.8 545.0L307.8 540.8L306.3 541.0M292.0 557.4L293.5 558.7L296.6 559.1M296.6 559.1L296.2 556.2L300.8 556.0M300.8 556.0L302.5 556.2L304.9 554.5L304.9 553.7M301.3 548.6L301.7 550.5L302.6 551.6L304.6 553.4L304.9 553.7M296.6 559.1L296.9 561.9L295.7 564.2L296.4 567.4M300.8 556.0L301.8 559.1L302.0 562.9L303.0 565.5M302.5 556.2L303.6 560.0L303.6 565.3M305.4 565.0L305.6 560.0L306.9 557.7L306.9 554.9M304.9 553.7L306.9 554.9M306.9 554.9L307.5 551.4L311.6 551.3L314.1 552.0L317.3 551.8L321.4 552.0L323.2 551.1M323.2 551.1L323.0 549.5L326.2 545.2L326.1 539.1L325.1 533.4M315.0 568.2L316.3 564.8L319.1 564.4L320.7 561.9L322.6 558.1L324.2 555.3L324.2 553.4L323.2 551.1M324.2 553.4L325.6 556.2L325.9 558.1L324.0 558.1L326.1 562.9M326.1 562.9L324.8 565.7L325.0 568.6L327.3 571.8L327.7 573.0M327.7 573.0L322.9 573.0L319.6 573.0L317.1 572.8M319.6 573.0L319.6 575.2L316.6 575.2M339.8 540.0L340.1 547.3L338.3 547.6L337.7 550.5L337.4 552.4L336.6 553.0L337.9 556.2L338.5 556.4M326.1 562.9L328.9 562.5L331.5 561.0L332.2 560.0L334.5 559.8L336.6 557.0L338.5 556.4M338.5 556.4L339.9 559.1L339.6 560.6L342.1 562.9L346.1 567.3M346.1 567.3L343.0 567.3L338.5 568.2L337.9 569.3L334.7 568.6L332.3 567.8L331.6 570.5M331.6 570.5L328.2 570.5L327.7 573.0M339.6 560.6L341.2 560.6L343.6 557.7L346.9 559.3L349.4 558.5L350.2 557.7L351.8 558.5L354.0 554.9L355.3 553.9L355.4 556.8L356.8 559.1M356.8 559.1L357.0 556.6L358.3 554.7L360.0 553.0L360.6 549.9M360.6 549.9L361.1 544.8L363.5 542.9M360.6 549.9L362.8 548.8L364.8 549.4L367.8 550.3L370.3 553.4M370.3 553.4L369.5 556.2L371.3 556.2L371.7 555.3M371.3 556.2L371.5 559.1L373.2 560.0L378.2 561.9L379.8 561.9L375.0 567.6L371.8 568.4L370.1 569.2L368.5 569.6M368.5 569.6L366.0 570.7L363.6 570.3L360.3 568.8L360.1 568.4M356.8 559.1L357.0 561.0L355.2 561.9L356.9 564.4L359.1 566.9L360.1 568.4M368.5 569.6L368.5 577.1L369.5 580.4M360.1 568.4L357.0 569.2L357.8 571.4L358.6 574.3L357.0 576.6L356.8 579.1M356.8 579.1L362.9 582.9L363.1 583.8L365.5 586.1M351.7 570.5L353.7 570.3L357.0 569.2M346.1 567.3L349.6 568.6L351.7 570.5M351.7 570.5L352.4 573.0L350.3 576.0L349.8 579.8M349.8 579.8L351.2 579.1L356.8 579.1M349.8 579.8L348.8 582.3L349.1 583.4L349.5 588.6L351.4 592.8M348.8 582.3L351.2 581.7L351.7 579.2M349.1 583.4L351.7 583.4L351.2 581.7M349.4 585.5L351.7 583.4M351.4 592.8L355.0 595.0M355.0 595.0L356.8 595.2L358.1 599.0M358.1 599.0L362.4 599.4L367.2 597.1M319.3 584.6L320.8 581.7L324.7 581.0L324.7 578.1L323.9 574.7L322.9 573.0M331.6 570.5L330.3 576.2L327.7 581.0L327.2 584.8L324.7 586.5L322.6 585.9L321.1 588.2M321.1 588.4L323.0 588.4L328.3 588.4L329.9 592.4L332.9 592.4L333.9 590.5L336.8 591.0L336.9 595.4L337.4 598.5L340.3 598.1M340.3 598.1L340.2 601.9L337.0 601.9L336.8 608.0L339.0 610.7M320.2 609.9L322.9 609.5L324.1 610.3L330.9 610.3L335.7 611.4L339.0 610.7L341.9 611.0M340.3 598.1L342.4 598.5L346.0 600.4L348.4 602.7L349.8 600.2L347.5 599.6L348.1 595.8L348.4 593.3L351.4 592.8M355.0 595.0L355.3 600.0L354.4 603.0L355.2 603.8M355.2 603.8L350.2 605.7L350.5 606.8M350.5 606.8L348.0 607.6L344.8 611.2L342.1 611.0M358.1 599.0L357.5 602.9L359.5 605.5L359.3 607.6L358.4 609.7L356.8 607.6L357.1 604.6L355.2 603.8M350.5 606.8L354.5 608.9L354.0 613.3L354.2 615.2L351.3 619.8M342.1 611.0L343.1 614.3L345.7 616.2L346.1 618.3L348.3 619.4M348.3 619.4L351.3 619.8M339.0 611.4L335.1 612.0L334.8 619.0L333.2 619.0L333.0 624.4M333.0 624.4L332.7 631.2L328.5 631.8L327.1 631.6M333.0 624.4L334.1 628.2L337.0 626.6L337.7 625.3L341.7 626.1L344.1 622.3L348.3 619.4M351.3 619.8L352.2 623.8L351.9 626.3L352.1 628.2L353.3 628.4M343.6 633.5L346.3 631.6L347.4 633.3L345.4 635.4L343.6 633.5M350.4 626.6L352.0 626.6L351.9 628.9L350.3 628.9L350.4 626.6M287.7 497.5L288.7 497.3L291.1 497.5L291.6 498.1L290.6 499.2L290.3 501.6L289.6 501.8L290.3 504.5L289.6 506.4M298.3 494.7L302.1 495.8L305.8 496.6M304.6 480.4L307.1 482.4L309.4 483.3L310.3 483.3L312.9 484.2L312.1 486.8L309.8 489.4L311.3 490.0L310.9 491.5L312.2 493.9M305.9 479.8L309.6 480.6L309.6 480.9L309.8 482.2L309.4 483.3M309.6 480.9L310.7 478.7L311.2 476.6M313.0 473.5L314.9 473.7M321.0 475.3L321.8 478.7L322.5 480.6L318.6 481.9L321.1 484.6L320.0 487.0L316.4 487.0L315.1 487.0L312.1 486.8M311.3 490.0L314.3 489.8L316.3 488.9L318.9 487.9L321.2 488.9L321.3 490.6M315.1 487.0L316.3 488.1M321.1 484.6L322.8 484.2L325.6 485.0L326.0 486.1L324.7 488.1L321.2 488.9M322.5 480.6L324.8 482.0L328.2 483.3L330.0 483.9L333.6 484.1L335.5 481.5L334.8 479.7L334.5 477.7L334.1 475.1L333.0 474.4L328.5 474.4M333.0 474.4L332.6 473.3L330.6 472.8M330.1 471.4L334.3 471.0L338.0 472.1M334.1 475.1L337.0 474.8L338.0 472.1L340.1 471.2L339.3 469.2L338.7 468.9L338.3 466.6L338.9 465.4M334.3 468.2L336.7 468.4L338.7 468.9M340.1 471.2L344.0 472.3L344.1 473.7L347.2 476.0L345.3 476.7L346.3 478.6M334.8 479.7L339.6 479.7L344.8 480.0L346.3 478.6M346.3 478.6L349.4 478.2L352.3 481.7L355.9 482.6L359.0 483.1L359.0 486.3L357.1 487.8M333.6 484.1L333.3 485.4L334.4 486.1L337.4 486.6L339.8 485.5L342.5 488.9L342.7 490.7L345.0 491.3M339.8 485.5L343.3 486.1L345.2 488.9L342.7 490.7M326.0 486.1L328.5 486.5L330.2 485.7L333.3 485.4M325.6 485.0L328.2 483.3M334.4 486.1L332.0 489.4L330.9 489.6L328.8 490.0L325.4 488.9L324.7 488.1M330.9 489.6L332.8 492.1L334.4 492.2L334.8 493.2L338.3 494.1L341.2 493.4L343.7 494.1M334.8 493.2L334.6 495.8L334.7 496.7L335.7 498.6L338.8 498.6L340.8 497.9L343.2 497.3M340.8 497.9L340.4 499.8M335.7 498.6L332.8 499.4L331.4 501.6M330.2 497.5L331.8 496.9L332.1 499.0L332.8 499.4M331.8 496.9L334.7 496.7M321.3 490.6L323.6 490.7L325.4 488.9M324.4 491.3L329.2 491.7L329.9 493.2L329.7 494.5L328.8 496.2M329.2 491.7L329.2 490.0M329.9 493.2L331.7 495.0L331.8 496.9M324.4 491.3L325.1 493.2L327.4 495.4L328.8 496.2M316.6 466.3L317.7 462.8L317.1 459.4L319.2 456.9L320.9 454.0L323.6 450.4L326.7 449.6L333.1 449.3L334.5 448.0L337.2 449.6L339.3 448.3M332.2 454.8L331.1 452.0L326.7 449.6M337.2 449.6L338.0 453.0L340.3 458.1L342.7 459.6L338.4 463.7M290.8 473.3L289.8 474.4L292.1 474.9M356.6 508.6L358.0 507.3L362.6 507.1L366.0 506.4L369.9 506.6L368.0 502.2L367.2 500.9L366.8 499.0L363.6 498.2M360.8 494.7L366.3 495.8L371.1 497.7L374.3 497.7M366.8 499.0L369.0 498.6L371.1 497.7M369.0 498.6L371.8 502.0L372.0 503.2M369.2 501.6L372.0 503.2L374.1 501.8L375.8 504.1M366.0 506.4L364.9 510.9L361.5 513.6L358.6 515.7L357.0 514.9M361.5 513.6L362.4 515.9L359.1 517.2L360.8 519.1L360.1 520.0L357.9 521.6L356.3 521.2M354.9 517.6L356.1 521.0M356.7 514.9L356.7 517.2L356.3 521.0M355.8 514.2L357.0 513.8L357.7 511.5L356.9 511.3M362.4 515.9L367.0 517.8L371.7 521.6L374.5 521.8L376.2 519.9L376.7 520.0M374.5 521.8L376.2 522.7L377.7 522.9M369.9 506.6L372.1 509.0L371.7 511.5L373.1 514.0L375.9 516.2L376.0 518.1L377.7 520.2M370.6 545.9L371.3 543.8L374.1 544.2L377.4 544.8L379.2 542.5L385.2 541.0L389.9 539.1L390.7 535.3L389.7 533.9L385.5 533.6L383.7 531.1M389.7 533.9L390.6 529.9L391.2 529.7M385.2 541.0L387.3 545.4M383.8 506.2L386.8 504.9L390.0 505.4L393.5 507.7L395.3 507.5L395.4 509.4L395.5 513.4L396.6 517.2L398.2 518.5L397.1 520.4L398.7 522.5L400.6 523.5L400.8 525.4L401.6 526.1L399.4 529.2M397.1 520.4L399.7 521.2L405.6 520.4L405.8 517.8L409.6 516.4L409.5 514.2L410.6 513.6L411.6 512.3L411.8 509.6L411.0 508.6L414.1 506.9L416.2 506.4M395.7 509.4L397.5 510.0L400.5 508.1L401.9 505.8L403.2 506.0L405.2 506.4L407.6 506.6L408.8 505.6L408.6 504.1L410.1 504.3L411.2 506.8L412.7 506.8L413.6 505.8L416.2 506.4M410.4 532.0L414.7 530.7L414.2 528.2L412.5 526.7L411.5 525.8L413.0 523.8L415.2 523.8L416.3 521.9L416.7 520.0L418.3 518.1L417.4 514.7L416.5 514.0L415.7 511.9L418.8 510.5L421.4 509.6M427.2 519.7L427.9 522.3L431.1 524.0L434.4 524.8L437.6 526.5L441.3 526.7L440.8 524.0M442.2 525.4L443.9 526.3L447.4 525.9L447.2 524.2M441.3 526.7L442.5 527.1L442.0 530.5L443.6 533.0L444.3 535.3M444.2 527.7L448.7 529.6L449.0 531.1L447.1 531.3L447.7 533.4L449.0 532.0L450.3 536.6L450.0 537.7M450.1 535.5L450.4 531.5L452.2 529.2L452.6 526.5L455.2 525.6L455.2 523.5M462.7 558.1L464.0 554.7L462.9 551.4L461.0 548.2L461.4 545.9L458.9 541.9L459.5 539.6L462.7 538.3L464.1 536.2M462.7 538.3L463.8 540.0L465.3 543.8L466.6 542.5L469.6 542.3L471.2 544.0L471.5 546.3L473.0 547.5L473.1 549.7L469.1 549.9L468.2 551.3L469.4 554.9M465.2 534.5L467.2 537.6L469.8 538.3L469.3 540.0L471.5 541.7L474.2 544.8L476.2 548.6L476.3 549.2L476.8 553.4L474.2 555.1L474.6 556.2L472.1 557.4M473.1 549.7L476.3 549.2M465.6 565.0L467.3 566.3L468.9 565.3M373.3 489.4L369.6 486.1L368.7 485.4L369.3 481.9L371.3 482.6L373.6 479.3L377.7 480.2L380.1 481.3L385.2 480.6L389.0 479.8L386.3 477.8L386.9 475.3L392.3 474.4L396.4 473.3L400.3 473.3L401.2 474.9L404.5 475.1L408.8 474.4L411.2 476.4L415.9 480.9L420.7 480.6L424.3 483.1L427.7 484.1M421.7 496.9L419.5 495.8L414.6 495.4L411.8 495.0L411.5 496.6L407.8 495.8L407.6 496.7L405.2 498.6L403.9 499.2L401.6 499.0L399.9 495.4L392.0 493.0L387.7 490.6L384.1 491.7L385.6 498.6L383.7 497.5L380.1 497.7M385.6 498.6L387.1 498.6L388.9 495.8L391.3 496.9L391.8 498.4L394.6 499.0L396.0 501.1L399.3 503.2L403.2 506.0M407.6 496.7L409.0 498.6L411.5 499.6L409.9 500.7L408.1 501.1L406.2 500.7L408.5 501.8L413.2 502.0M406.2 500.7L405.2 500.7L403.8 502.6L405.7 504.5L405.2 506.4M428.3 483.9L433.2 480.9L441.6 482.8L441.9 478.6L447.4 480.0L448.1 481.3L454.7 481.9L461.8 483.5L465.3 481.9L469.6 482.8M489.9 501.1L491.6 499.2L494.2 498.2L495.9 496.6L497.3 496.6M481.5 573.3L484.7 575.2L488.3 574.7L490.4 571.8L491.1 569.0L494.4 569.2M533.2 582.1L532.4 594.5M504.6 595.0L506.3 594.3L506.2 593.5" fill="none" stroke="#fff" stroke-width="0.55" stroke-linejoin="round" stroke-linecap="round" opacity="0.9"/>
<path d="M344.8 498.8L343.2 497.5L342.3 496.4L342.8 495.0L343.8 493.2L345.0 491.3L346.2 488.9L348.1 488.9L350.5 489.8L349.1 490.9L350.8 492.4L351.9 492.8L353.5 491.7L355.1 491.1L352.6 489.4L355.1 488.3L356.0 487.8L358.1 487.6L358.8 487.8L357.3 489.4L356.9 490.7L355.6 491.3L357.2 492.2L359.1 493.4L360.3 494.3L362.4 495.4L363.8 498.1L361.1 499.2L355.8 498.6L353.9 497.3L351.4 497.3L349.0 498.2L346.3 498.8ZM371.9 489.8L373.9 488.9L376.0 488.3L378.3 488.9L379.5 491.1L377.6 492.6L375.9 493.0L377.4 495.0L379.8 495.8L380.5 498.2L382.5 498.2L381.5 501.1L382.6 503.0L383.8 506.2L382.6 506.9L379.5 507.1L377.0 506.0L375.8 504.1L376.0 502.4L376.9 500.5L375.9 499.2L374.3 497.7L372.2 495.4L371.7 492.6L370.4 491.3Z" fill="#FFFFFF" />
<path d="M122.7 484.2L162.8 484.2L163.4 484.6L166.9 485.5L170.3 486.1L172.1 485.5L176.4 488.1L176.7 488.9L177.6 490.2L178.8 491.1L177.5 495.4L176.0 496.9L176.3 497.9L182.5 495.8L182.7 494.5L186.8 493.9L187.3 493.2L189.7 491.7L194.9 491.7L196.2 490.9L197.9 488.9L199.6 487.2L200.9 487.4L201.5 487.8L200.8 490.2L201.1 491.1L201.5 492.1L198.1 493.5L196.1 494.3L194.9 496.0L195.4 497.9L193.2 498.2L189.3 499.4L188.8 499.9L188.0 502.0L186.5 503.0L186.0 504.3L184.1 506.8L184.1 510.0L182.3 511.1L179.6 512.6L177.2 514.2L174.1 516.2L172.8 519.1L173.3 522.9L173.7 526.1L173.0 528.2L171.5 529.4L170.6 527.1L169.7 524.2L170.1 521.6L168.5 520.0L166.1 520.6L163.1 519.5L160.8 519.5L159.8 521.8L157.9 521.6L155.7 520.8L152.6 520.8L151.2 521.4L148.1 523.3L146.4 524.8L145.9 527.8L143.1 526.9L143.0 524.8L141.6 521.9L141.0 520.4L138.9 520.6L137.8 521.9L136.1 520.6L134.0 516.6L131.3 516.6L131.1 517.6L126.5 517.6L121.4 515.3L117.8 515.3L116.7 512.6L113.8 511.5L113.1 507.5L113.1 505.2L112.5 502.0L112.3 500.3L114.1 497.3L114.4 495.4L118.2 489.4L119.3 485.4L121.6 485.7ZM119.6 472.8L117.7 472.4L116.6 470.1L115.7 467.7L114.2 467.7L113.4 466.3L111.7 465.4L110.1 464.5L106.9 464.4L105.2 463.7L102.6 463.2L99.0 464.9L95.0 465.9L98.9 462.8L100.5 462.5L96.7 463.7L93.1 465.4L90.5 467.1L85.2 469.8L80.9 471.5L76.2 473.0L71.9 473.9L69.9 474.0L74.7 472.3L78.1 471.5L82.4 469.8L86.5 466.8L84.7 466.8L82.4 466.8L80.8 466.3L82.5 464.5L79.8 464.5L79.7 462.8L80.5 461.1L83.9 459.4L87.7 458.6L90.6 457.8L92.0 456.4L88.8 456.9L85.7 456.9L85.6 455.8L84.4 455.1L87.4 454.1L91.1 453.6L93.8 453.0L93.3 452.0L90.9 450.7L93.7 449.8L97.9 448.8L101.9 447.6L109.2 446.0L112.8 446.6L115.8 447.2L117.4 447.6L121.2 448.0L125.5 448.7L111.2 464.0L113.5 464.5L114.0 466.4L117.9 464.9L118.7 467.3L118.7 470.5L120.5 471.5ZM48.9 538.7L50.4 540.0L49.0 541.0L48.6 539.8ZM48.1 537.4L49.2 537.6L48.5 537.9ZM46.1 536.0L46.8 536.4L46.1 536.6ZM43.9 535.1L44.6 535.1L44.2 535.5ZM88.7 468.9L92.5 468.0L91.4 469.2L88.3 470.1ZM75.8 458.8L78.7 459.1L79.4 458.4L77.1 458.1ZM75.5 464.4L77.5 464.5L77.7 463.9Z" fill="#BADDE3" stroke="#fff" stroke-width="0.45" stroke-linejoin="round"/>
<path d="M165.6 488.5L167.5 488.3L171.3 487.4L172.2 488.7L175.9 488.7L176.6 488.9L176.8 487.0L175.6 485.5L172.9 484.4L170.3 486.1L168.6 486.8ZM169.0 497.7L170.2 497.7L171.7 495.4L172.3 492.6L174.3 491.3L175.4 490.2L173.2 490.2L171.0 491.7L170.1 492.6L170.2 494.5L169.1 496.4ZM175.8 490.2L177.8 489.6L180.7 489.8L182.3 491.7L182.0 492.6L179.8 492.6L178.7 494.9L177.5 495.4L178.0 493.5L176.6 493.5L175.8 494.1L177.4 491.7ZM175.2 497.9L178.0 498.2L182.4 496.2L182.5 495.6L180.1 496.2L176.8 497.3ZM181.6 494.9L185.8 494.9L187.1 494.3L187.0 493.2L184.6 493.7L182.4 494.1Z" fill="#FFFFFF" />
<path d="M413.2 502.0L413.4 500.9L417.3 499.2L419.0 499.2L421.7 496.9L422.0 495.2L419.7 491.7L422.8 490.7L422.7 487.6L426.5 487.8L426.0 485.4L427.7 484.1L428.3 483.9L430.4 485.5L433.5 487.0L435.3 489.8L435.7 491.3L439.8 491.9L443.1 493.0L445.6 495.8L451.9 496.2L459.2 497.9L461.8 496.6L466.1 496.0L468.1 494.1L466.9 491.7L469.7 492.1L472.4 490.6L472.8 489.3L477.2 488.5L474.1 486.3L470.6 486.5L469.5 485.7L469.6 482.8L471.5 483.3L472.8 482.0L472.6 477.7L471.4 477.3L472.1 476.4L475.6 476.0L479.0 476.9L485.0 482.4L491.1 484.6L492.6 486.6L497.3 485.5L498.4 491.5L495.9 491.9L497.2 494.5L497.3 496.6L495.9 496.6L494.2 498.2L491.6 499.2L489.9 501.1L487.6 502.0L486.1 503.3L486.0 500.1L484.2 499.6L482.8 501.3L480.8 503.0L483.4 505.8L484.8 506.6L486.7 505.6L489.3 506.2L489.6 506.9L486.8 508.6L486.0 510.5L486.0 511.1L488.9 513.4L492.0 516.6L492.7 518.3L491.3 519.5L493.5 520.4L492.9 523.8L491.7 527.7L490.1 530.5L488.3 532.8L484.7 534.7L483.6 534.9L480.7 536.2L479.0 536.6L479.0 538.5L478.1 537.6L477.8 536.2L476.7 536.2L475.1 536.2L473.3 535.5L472.2 533.4L470.0 532.8L468.1 534.1L465.2 534.5L465.0 536.8L464.1 536.2L462.3 536.2L460.7 535.1L460.9 533.6L459.3 531.5L457.4 531.5L458.4 527.8L457.6 524.6L455.2 523.5L453.5 523.5L451.9 521.9L447.2 524.2L446.4 524.2L443.2 523.5L442.2 525.4L440.8 524.0L437.5 524.0L433.9 522.3L430.0 519.5L427.2 519.7L424.8 517.6L424.1 515.1L425.1 514.3L423.5 512.1L421.4 509.6L418.5 509.0L416.2 506.4L415.5 503.9ZM476.9 540.4L478.0 539.1L479.9 538.9L480.6 539.8L479.9 541.7L478.6 542.5L477.2 541.9Z" fill="#07407F" stroke="#fff" stroke-width="0.45" stroke-linejoin="round"/>
<path d="M495.2 505.2L495.7 504.3L497.3 503.7L500.1 506.8L501.2 509.0L500.9 510.4L498.9 511.1L497.1 511.3L496.4 508.6L496.1 506.8L495.4 505.8Z" fill="#BADDE3" stroke="#fff" stroke-width="0.45" stroke-linejoin="round"/></g>
<defs><linearGradient id="cb" x1="0" x2="1" y1="0" y2="0"><stop offset="0" stop-color="#C2E0E6"/><stop offset="1" stop-color="#0A3F7F"/></linearGradient></defs>
<rect x="6.9" y="658.1" width="159.9" height="11.8" fill="url(#cb)"/>
<text x="7.1" y="682.3" font-size="13" fill="#111">3</text>
<text x="163.6" y="682.3" font-size="13" fill="#111">71</text>
</g>
<g id="panelC">
<text x="18.9" y="716.4" font-size="17.5" fill="#111">C</text>
<text x="169.8" y="727.7" font-size="14" text-anchor="middle" fill="#000">lineage B HP</text>
<path d="M85.4 790.0V798.0L90.3 803.0V810.2" stroke="#777" stroke-width="0.7" fill="none"/>
<path d="M99.6 790.0V798.0L95.3 803.0V810.2" stroke="#777" stroke-width="0.7" fill="none"/>
<path d="M125.0 790.0V798.0L125.2 803.0V810.2" stroke="#777" stroke-width="0.7" fill="none"/>
<path d="M159.0 790.0V798.0L159.3 803.0V810.2" stroke="#777" stroke-width="0.7" fill="none"/>
<rect x="86.5" y="807.0" width="102.4" height="6.6" fill="#FF7F24" stroke="#7a6a5a" stroke-width="0.5"/>
<rect x="188.9" y="807.0" width="69.9" height="6.6" fill="#12BDE8" stroke="#5a6a7a" stroke-width="0.5"/>
<path d="M90.3 807.0V810.2" stroke="#8a6a50" stroke-width="0.7" fill="none"/>
<path d="M95.3 807.0V810.2" stroke="#8a6a50" stroke-width="0.7" fill="none"/>
<path d="M125.2 807.0V810.2" stroke="#8a6a50" stroke-width="0.7" fill="none"/>
<path d="M159.3 807.0V810.2" stroke="#8a6a50" stroke-width="0.7" fill="none"/>
<circle cx="85.4" cy="790.0" r="5.1" fill="#050505"/>
<text transform="translate(86.2 783.2) rotate(-90)" font-size="13.7" fill="#000" stroke="#000" stroke-width="0.25">gly12</text>
<circle cx="99.6" cy="790.0" r="5.1" fill="#050505"/>
<text transform="translate(100.4 783.2) rotate(-90)" font-size="13.7" fill="#000" stroke="#000" stroke-width="0.25">gly28</text>
<circle cx="125.0" cy="790.0" r="5.1" fill="#050505"/>
<text transform="translate(125.8 783.2) rotate(-90)" font-size="13.7" fill="#000" stroke="#000" stroke-width="0.25">gly123</text>
<circle cx="159.0" cy="790.0" r="5.1" fill="#050505"/>
<text transform="translate(159.8 783.2) rotate(-90)" font-size="13.7" fill="#000" stroke="#000" stroke-width="0.25">gly231</text>
<path d="M118.0 815.0H244.0M118.0 815.0v3.6M149.5 815.0v3.6M181.0 815.0v3.6M212.5 815.0v3.6M244.0 815.0v3.6" stroke="#888" stroke-width="0.8" fill="none"/>
<text x="115.1" y="835.0" font-size="12.8" text-anchor="middle" fill="#000">100</text>
<text x="146.6" y="835.0" font-size="12.8" text-anchor="middle" fill="#000">200</text>
<text x="178.1" y="835.0" font-size="12.8" text-anchor="middle" fill="#000">300</text>
<text x="209.6" y="835.0" font-size="12.8" text-anchor="middle" fill="#000">400</text>
<text x="241.1" y="835.0" font-size="12.8" text-anchor="middle" fill="#000">500</text>
<text x="428.7" y="727.7" font-size="14" text-anchor="middle" fill="#000">lineage B LP</text>
<path d="M344.2 790.0V798.0L349.2 803.0V810.2" stroke="#777" stroke-width="0.7" fill="none"/>
<path d="M358.5 790.0V798.0L354.2 803.0V810.2" stroke="#777" stroke-width="0.7" fill="none"/>
<path d="M418.0 790.0V798.0L418.2 803.0V810.2" stroke="#777" stroke-width="0.7" fill="none"/>
<rect x="345.4" y="807.0" width="102.4" height="6.6" fill="#FF7F24" stroke="#7a6a5a" stroke-width="0.5"/>
<rect x="447.8" y="807.0" width="69.9" height="6.6" fill="#12BDE8" stroke="#5a6a7a" stroke-width="0.5"/>
<path d="M349.2 807.0V810.2" stroke="#8a6a50" stroke-width="0.7" fill="none"/>
<path d="M354.2 807.0V810.2" stroke="#8a6a50" stroke-width="0.7" fill="none"/>
<path d="M418.2 807.0V810.2" stroke="#8a6a50" stroke-width="0.7" fill="none"/>
<circle cx="344.2" cy="790.0" r="5.1" fill="#050505"/>
<text transform="translate(345.0 783.2) rotate(-90)" font-size="13.7" fill="#000" stroke="#000" stroke-width="0.25">gly12</text>
<circle cx="358.5" cy="790.0" r="5.1" fill="#050505"/>
<text transform="translate(359.3 783.2) rotate(-90)" font-size="13.7" fill="#000" stroke="#000" stroke-width="0.25">gly28</text>
<circle cx="418.0" cy="790.0" r="5.1" fill="#050505"/>
<text transform="translate(418.8 783.2) rotate(-90)" font-size="13.7" fill="#000" stroke="#000" stroke-width="0.25">gly231</text>
<path d="M376.9 815.0H502.9M376.9 815.0v3.6M408.4 815.0v3.6M439.9 815.0v3.6M471.4 815.0v3.6M502.9 815.0v3.6" stroke="#888" stroke-width="0.8" fill="none"/>
<text x="374.0" y="835.0" font-size="12.8" text-anchor="middle" fill="#000">100</text>
<text x="405.5" y="835.0" font-size="12.8" text-anchor="middle" fill="#000">200</text>
<text x="437.0" y="835.0" font-size="12.8" text-anchor="middle" fill="#000">300</text>
<text x="468.5" y="835.0" font-size="12.8" text-anchor="middle" fill="#000">400</text>
<text x="500.0" y="835.0" font-size="12.8" text-anchor="middle" fill="#000">500</text>
<text x="169.8" y="869.7" font-size="14" text-anchor="middle" fill="#000">lineage E</text>
<path d="M85.4 932.0V940.0L90.3 945.0V952.2" stroke="#777" stroke-width="0.7" fill="none"/>
<path d="M99.6 932.0V940.0L95.3 945.0V952.2" stroke="#777" stroke-width="0.7" fill="none"/>
<path d="M159.0 932.0V940.0L159.3 945.0V952.2" stroke="#777" stroke-width="0.7" fill="none"/>
<rect x="86.5" y="949.0" width="102.4" height="6.6" fill="#FF7F24" stroke="#7a6a5a" stroke-width="0.5"/>
<rect x="188.9" y="949.0" width="69.9" height="6.6" fill="#12BDE8" stroke="#5a6a7a" stroke-width="0.5"/>
<path d="M90.3 949.0V952.2" stroke="#8a6a50" stroke-width="0.7" fill="none"/>
<path d="M95.3 949.0V952.2" stroke="#8a6a50" stroke-width="0.7" fill="none"/>
<path d="M159.3 949.0V952.2" stroke="#8a6a50" stroke-width="0.7" fill="none"/>
<circle cx="85.4" cy="932.0" r="5.1" fill="#050505"/>
<text transform="translate(86.2 925.2) rotate(-90)" font-size="13.7" fill="#000" stroke="#000" stroke-width="0.25">gly12</text>
<circle cx="99.6" cy="932.0" r="5.1" fill="#050505"/>
<text transform="translate(100.4 925.2) rotate(-90)" font-size="13.7" fill="#000" stroke="#000" stroke-width="0.25">gly28</text>
<circle cx="159.0" cy="932.0" r="5.1" fill="#050505"/>
<text transform="translate(159.8 925.2) rotate(-90)" font-size="13.7" fill="#000" stroke="#000" stroke-width="0.25">gly231</text>
<path d="M118.0 957.0H244.0M118.0 957.0v3.6M149.5 957.0v3.6M181.0 957.0v3.6M212.5 957.0v3.6M244.0 957.0v3.6" stroke="#888" stroke-width="0.8" fill="none"/>
<text x="115.1" y="977.0" font-size="12.8" text-anchor="middle" fill="#000">100</text>
<text x="146.6" y="977.0" font-size="12.8" text-anchor="middle" fill="#000">200</text>
<text x="178.1" y="977.0" font-size="12.8" text-anchor="middle" fill="#000">300</text>
<text x="209.6" y="977.0" font-size="12.8" text-anchor="middle" fill="#000">400</text>
<text x="241.1" y="977.0" font-size="12.8" text-anchor="middle" fill="#000">500</text>
<text x="428.7" y="869.7" font-size="14" text-anchor="middle" fill="#000">lineage F</text>
<path d="M344.2 932.0V940.0L349.2 945.0V952.2" stroke="#777" stroke-width="0.7" fill="none"/>
<path d="M358.5 932.0V940.0L354.2 945.0V952.2" stroke="#777" stroke-width="0.7" fill="none"/>
<path d="M418.0 932.0V940.0L418.2 945.0V952.2" stroke="#777" stroke-width="0.7" fill="none"/>
<rect x="345.4" y="949.0" width="102.4" height="6.6" fill="#FF7F24" stroke="#7a6a5a" stroke-width="0.5"/>
<rect x="447.8" y="949.0" width="69.9" height="6.6" fill="#12BDE8" stroke="#5a6a7a" stroke-width="0.5"/>
<path d="M349.2 949.0V952.2" stroke="#8a6a50" stroke-width="0.7" fill="none"/>
<path d="M354.2 949.0V952.2" stroke="#8a6a50" stroke-width="0.7" fill="none"/>
<path d="M418.2 949.0V952.2" stroke="#8a6a50" stroke-width="0.7" fill="none"/>
<circle cx="344.2" cy="932.0" r="5.1" fill="#050505"/>
<text transform="translate(345.0 925.2) rotate(-90)" font-size="13.7" fill="#000" stroke="#000" stroke-width="0.25">gly12</text>
<circle cx="358.5" cy="932.0" r="5.1" fill="#050505"/>
<text transform="translate(359.3 925.2) rotate(-90)" font-size="13.7" fill="#000" stroke="#000" stroke-width="0.25">gly28</text>
<circle cx="418.0" cy="932.0" r="5.1" fill="#050505"/>
<text transform="translate(418.8 925.2) rotate(-90)" font-size="13.7" fill="#000" stroke="#000" stroke-width="0.25">gly231</text>
<path d="M376.9 957.0H502.9M376.9 957.0v3.6M408.4 957.0v3.6M439.9 957.0v3.6M471.4 957.0v3.6M502.9 957.0v3.6" stroke="#888" stroke-width="0.8" fill="none"/>
<text x="374.0" y="977.0" font-size="12.8" text-anchor="middle" fill="#000">100</text>
<text x="405.5" y="977.0" font-size="12.8" text-anchor="middle" fill="#000">200</text>
<text x="437.0" y="977.0" font-size="12.8" text-anchor="middle" fill="#000">300</text>
<text x="468.5" y="977.0" font-size="12.8" text-anchor="middle" fill="#000">400</text>
<text x="500.0" y="977.0" font-size="12.8" text-anchor="middle" fill="#000">500</text>
<rect x="252.6" y="991.8" width="17.6" height="17.6" fill="#FF7F24"/>
<text x="274.8" y="1005.4" font-size="13.2" fill="#111">HA1</text>
<rect x="318.8" y="991.8" width="17.6" height="17.6" fill="#12BDE8"/>
<text x="341.3" y="1005.4" font-size="13.2" fill="#111">HA2</text>
</g>
</svg>
</body></html>
